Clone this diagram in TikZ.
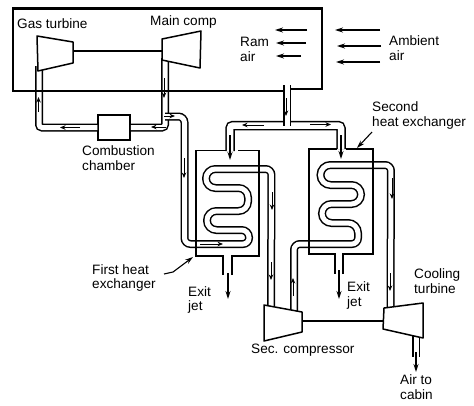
\documentclass[tikz,border=0pt]{standalone}
\usepackage{fontspec}
\setmainfont{Liberation Sans}
\usetikzlibrary{arrows.meta}

\begin{document}
\begin{tikzpicture}[
                x=1pt, y=-1pt,
                pipeline/.style = {line width=1.5pt, double=white, double distance=5pt},
                widepipe/.style = {line width=1.5pt, double=white, double distance=6.5pt},
                casing/.style = {line width=1.3pt},
                duct/.style = {line width=2.2pt},
                shaft/.style = {line width=2.2pt},
                machine/.style = {draw, line width=1.5pt, fill=white, line join=round},
                flow/.style = {line width=0.9pt, -{Stealth[length=5.5pt, width=4.5pt]}},
                airflow/.style = {line width=1.1pt, -{Stealth[length=8pt, width=5pt]}},
                plainlabel/.style = {anchor=west, align=left, inner sep=0pt, font=\fontsize{13.6}{14.5}\selectfont}
        ]
        \useasboundingbox (0,0) rectangle (474,405);

        \node[draw, line width=1.5pt, minimum width=32pt, minimum height=25pt, inner sep=0pt] (combustor) at (114,127.5) {};

        \coordinate (gasport) at (39,66);
        \coordinate (compport) at (165,58);
        \coordinate (secin) at (271,308);
        \coordinate (secout) at (294,312);
        \coordinate (coolin) at (390.5,310);
        \coordinate (ductout) at (287,85);
        \coordinate (firstin) at (230,151);
        \coordinate (secondin) at (341,149);

        \draw[pipeline, rounded corners=3pt] (combustor.west) -- (39,127.5) -- (gasport);
        \draw[pipeline, rounded corners=3pt] (compport) -- (165,127.5) -- (combustor.east);

        \draw[pipeline] (165,116.5) [rounded corners=6pt] -- (184.5,116.5) -- (184.5,244)
                -- (249,244) [rounded corners=7.4pt] -- (249,230) [rounded corners=9.4pt] -- (207,230) -- (207,211)
                -- (248,211) -- (248,188) -- (206,188) -- (206,169) [rounded corners=6pt] -- (271.5,169) -- (secin);

        \draw[pipeline] (secout) [rounded corners=6pt] -- (294,244) -- (358,244) [rounded corners=10pt] -- (358,223)
                [rounded corners=9.5pt] -- (322,223) -- (322,204) -- (361,204) -- (361,185)
                [rounded corners=10pt] -- (320.5,185) -- (320.5,165) [rounded corners=6pt] -- (391,165) -- (coolin);

        \draw[widepipe, rounded corners=3pt] (firstin) -- (230,125.5) -- (341,125.5) -- (secondin);
        \draw[pipeline] (ductout) -- (287,125.5);

        \draw[pipeline] (416,334) -- (416,357);

        \draw[duct] (283.5,91) -- (13,91) -- (13,8.5) -- (322,8.5) -- (322,89) -- (290.5,89);

        \draw[casing] (226,150.7) -- (196,150.7) -- (196,256) -- (223,256) -- (223,275);
        \draw[casing] (232,275) -- (232,256) -- (259,256) -- (259,150.7) -- (238,150.7);
        \draw[casing] (337,149) -- (309,149) -- (309,254) -- (335,254) -- (335,274);
        \draw[casing] (343,274) -- (343,254) -- (373,254) -- (373,149) -- (346,149);

        \draw[machine] (37,36) -- (73,42) -- (73,63) -- (38,71) -- cycle;
        \draw[machine] (162,39) -- (201,31) -- (200,68) -- (162,60) -- cycle;
        \draw[machine] (264,305) -- (302,312) -- (302,332) -- (264,341) -- cycle;
        \draw[machine] (384,308) -- (423,303) -- (423,338) -- (383,329) -- cycle;

        \draw[shaft] (73,51) -- (162,51);
        \draw[shaft] (302,321) -- (383,321);

        \draw[airflow] (307,30) -- (275,30);
        \draw[airflow] (306,43) -- (276,43);
        \draw[airflow] (301,56) -- (276,56);
        \draw[airflow] (380,30) -- (335,30);
        \draw[airflow] (381,46) -- (337,46);
        \draw[airflow] (380,62) -- (336,62);

        \draw[flow] (38.5,112) -- (38.5,97);
        \draw[flow] (164,78) -- (164,98);
        \draw[flow] (166,127) -- (151,127);
        \draw[flow] (80,127.5) -- (60,127.5);
        \draw[flow] (164,116) -- (175,116);
        \draw[flow] (184,158) -- (184,178);
        \draw[flow] (200,244) -- (223,244);
        \draw[flow] (272,192) -- (272,210);
        \draw[flow] (271,262) -- (271,280);
        \draw[flow] (293,296) -- (293,278);
        \draw[flow] (392,178) -- (392,199);
        \draw[flow] (390,273) -- (390,291);
        \draw[flow] (264,125) -- (242,125);
        \draw[flow] (310,124.5) -- (331,124.5);
        \draw[flow] (286,98) -- (286,116);
        \draw[airflow] (230,135) -- (230,160);
        \draw[airflow] (341,135) -- (341,159);
        \draw[airflow] (228,273) -- (228,299);
        \draw[airflow] (339,270) -- (339,299);
        \draw[airflow] (416,352) -- (416,372);

        \node[plainlabel] (gaslabel) at (17,23.5) {Gas turbine};
        \node[plainlabel] (complabel) at (150,21.5) {Main comp};
        \node[plainlabel] (ramlabel) at (240,49.5) {Ram\\air};
        \node[plainlabel] (ambientlabel) at (389,48) {Ambient\\air};
        \node[plainlabel] (chamberlabel) at (82,158) {Combustion\\chamber};
        \node[plainlabel] (secondlabel) at (372,115.5) {Second\\heat exchanger};
        \node[plainlabel] (firstlabel) at (92,278) {First heat\\exchanger};
        \node[plainlabel] (exitone) at (188,300) {Exit\\jet};
        \node[plainlabel] (exittwo) at (347,295.5) {Exit\\jet};
        \node[plainlabel] (coollabel) at (414,281) {Cooling\\turbine};
        \node[plainlabel] (seclabel) at (251,350) {Sec. compressor};
        \node[plainlabel] (cabinlabel) at (400,387) {Air to\\cabin};

        \draw[airflow] (164,274) -- (173,272) -- (193,257);
        \draw[airflow] (372,132) -- (357,148);
\end{tikzpicture}
\end{document}
